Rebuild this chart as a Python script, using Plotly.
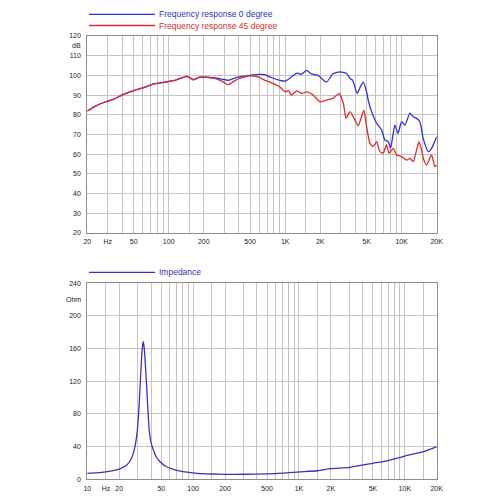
import plotly.graph_objects as go

# frequency response, 0 degree (Hz, dB)
fr0_hz = [20, 23.3, 28.4, 33.4, 39.5, 51, 62.6, 76, 93, 113, 143, 163, 186, 242, 285, 324, 396,
          498, 588, 670, 740, 900, 1000, 1130, 1258, 1370, 1530, 1680, 1920, 2260, 2570, 2940,
          3350, 3600, 3800, 4150, 4400, 4680, 5000, 5160, 5520, 6100, 6730, 7180, 7670, 8040,
          8740, 9300, 10000, 10670, 11780, 12570, 13430, 14340, 15310, 16900, 18070, 20000]
fr0_db = [81.9, 84.3, 86.5, 87.8, 90, 92.4, 94.1, 95.8, 96.6, 97.5, 99.5, 97.8, 99.1, 98.8, 98.1, 97.5, 99.2,
          100, 100.5, 100.4, 99.2, 97.5, 97.1, 99.2, 101.2, 100.5, 102.5, 100.8, 100, 96.6, 100.8, 101.8,
          101.1, 98.5, 97.5, 90.8, 94, 96.6, 91.7, 87.5, 81.6, 75.7, 72.3, 67.2, 66.4, 63,
          74.8, 70.6, 76.5, 74.8, 80.8, 79, 78.2, 76.5, 68, 61.3, 63, 68.9]

# frequency response, 45 degree (Hz, dB)
fr45_hz = [20, 23.3, 28.4, 33.4, 39.5, 51, 62.6, 76, 93, 113, 143, 163, 186, 242, 285, 324, 396,
           498, 588, 670, 740, 900, 1000, 1066, 1130, 1258, 1390, 1530, 1740, 1990, 2260, 2570,
           2900, 3160, 3330, 3600, 3970, 4240, 4740, 5000, 5340, 5700, 6100, 6500, 6950, 7400,
           7800, 8470, 9060, 10000, 11040, 11780, 12570, 13430, 14100, 14830, 15520, 16380, 18070, 19310, 20000]
fr45_db = [81.9, 84.3, 86.5, 87.8, 90, 92.4, 94.1, 95.8, 96.6, 97.5, 99.5, 97.8, 99.1, 98.6, 97.1, 95.3, 98.3,
           99.8, 99.2, 97.5, 96.6, 94.1, 91.6, 92.4, 90, 92.1, 90.8, 91.6, 90, 86.6, 87.5, 88.3,
           90.8, 85.8, 78.2, 81.6, 77.4, 74.5, 82.4, 74, 65.5, 63.8, 66.4, 61.3, 60.5, 64.7,
           60.5, 63, 59.6, 58.8, 57, 57.9, 56.2, 62.1, 66.4, 62.1, 57, 54.5, 59.6, 53.7, 54.5]

# impedance (Hz, Ohm)
imp_hz = [10, 13.2, 16, 19, 21, 23.6, 25.5, 27.2, 28.5, 29.7, 30.7, 31.5, 32.3, 32.8, 33.4, 33.8,
          34.2, 34.8, 35.5, 36.4, 37.4, 38.5, 40, 42.1, 45, 48.7, 55, 65, 80, 108, 150, 200, 300,
          500, 700, 1000, 1500, 2000, 3000, 5000, 7000, 10000, 15000, 20000]
imp_ohm = [7.3, 8.1, 9.6, 11.4, 13.6, 17.5, 23, 31.8, 43, 60, 85, 113, 140, 155, 165, 168.5,
           165, 155, 136, 113, 84, 60, 45, 35.9, 27, 21.5, 16, 12.2, 9.3, 7.3, 6.5, 6.1, 6.2,
           6.7, 7.5, 9, 10.5, 13, 14.7, 19.6, 23, 28.5, 33.8, 40]

top_ticks = [20, 30, 50, 100, 200, 500, 1000, 2000, 5000, 10000, 20000]
top_labels = ['20', 'Hz', '50', '100', '200', '500', '1K', '2K', '5K', '10K', '20K']
top_minor = [40, 60, 70, 80, 90, 150, 300, 400, 600, 700, 800, 900, 1500, 3000, 4000,
             6000, 7000, 8000, 9000, 15000]
bot_ticks = [10, 15, 20, 50, 100, 200, 500, 1000, 2000, 5000, 10000, 20000]
bot_labels = ['10', 'Hz', '20', '50', '100', '200', '500', '1K', '2K', '5K', '10K', '20K']
bot_minor = [30, 40, 60, 70, 80, 90, 150, 300, 400, 600, 700, 800, 900, 1500, 3000, 4000,
             6000, 7000, 8000, 9000, 15000]

BLUE = '#2f2fdc'
RED = '#e02a2a'
IMP = '#3434c4'
GRID = '#c4c4c4'
FONT = 'Liberation Sans, Arial, sans-serif'

fig = go.Figure()
fig.add_trace(go.Scatter(x=fr0_hz, y=fr0_db, mode='lines', line=dict(color=BLUE, width=1.3, shape='spline', smoothing=0.5),
                         xaxis='x', yaxis='y', name='Frequency response 0 degree'))
fig.add_trace(go.Scatter(x=fr45_hz, y=fr45_db, mode='lines', line=dict(color=RED, width=1.3, shape='spline', smoothing=0.5),
                         xaxis='x', yaxis='y', name='Frequency response 45 degree'))
fig.add_trace(go.Scatter(x=imp_hz, y=imp_ohm, mode='lines', line=dict(color=IMP, width=1.3, shape='spline', smoothing=0.6),
                         xaxis='x2', yaxis='y2', name='Impedance'))

axis_style = dict(showline=True, linecolor='#8c8c8c', linewidth=1, mirror=True,
                  showgrid=True, gridcolor=GRID, gridwidth=1, zeroline=False,
                  tickfont=dict(size=7, color='#222', family=FONT), ticks='', automargin=False)

# the page puts the figure 8px in from the top-left corner
fig.update_layout(
    width=500, height=500,
    margin=dict(l=0, r=0, t=0, b=0),
    paper_bgcolor='white', plot_bgcolor='white',
    showlegend=False,
    font=dict(family=FONT),
    xaxis=dict(type='log', range=[1.30103, 4.30103], domain=[0.1586, 0.8574], anchor='y',
               tickmode='array', tickvals=top_ticks, ticktext=top_labels, ticklabelstandoff=2,
               minor=dict(tickmode='array', tickvals=top_minor, showgrid=True, gridcolor=GRID, gridwidth=1),
               **axis_style),
    yaxis=dict(range=[20, 120], domain=[0.55, 0.944], anchor='x',
               tickmode='array', tickvals=list(range(20, 121, 10)), ticklabelstandoff=4, **axis_style),
    xaxis2=dict(type='log', range=[1, 4.30103], domain=[0.1586, 0.8574], anchor='y2',
                tickmode='array', tickvals=bot_ticks, ticktext=bot_labels, ticklabelstandoff=2,
                minor=dict(tickmode='array', tickvals=bot_minor, showgrid=True, gridcolor=GRID, gridwidth=1),
                **axis_style),
    yaxis2=dict(range=[0, 240], domain=[0.0574, 0.4494], anchor='x2',
                tickmode='array', tickvals=list(range(0, 241, 40)), ticklabelstandoff=4, **axis_style),
)

# unit labels on the y axes
fig.add_annotation(text='dB', xref='paper', yref='y', x=0.149, y=115, xanchor='right', showarrow=False,
                   font=dict(size=7, color='#222'))
fig.add_annotation(text='Ohm', xref='paper', yref='y2', x=0.149, y=220, xanchor='right', showarrow=False,
                   font=dict(size=7, color='#222'))

# legend rows drawn as line + label
legend_rows = [('Frequency response 0 degree', BLUE, 1 - 6.3 / 500),
               ('Frequency response 45 degree', RED, 1 - 17.5 / 500),
               ('Impedance', IMP, 1 - 264.3 / 500)]
for label, color, ypos in legend_rows:
    fig.add_shape(type='line', xref='paper', yref='paper', x0=0.162, x1=0.294, y0=ypos, y1=ypos,
                  line=dict(color=color, width=1.3))
    fig.add_annotation(text=label, xref='paper', yref='paper', x=0.297, y=ypos, xanchor='left',
                       yanchor='middle', showarrow=False, font=dict(size=8.5, color=color))

fig.write_html("out.html")
